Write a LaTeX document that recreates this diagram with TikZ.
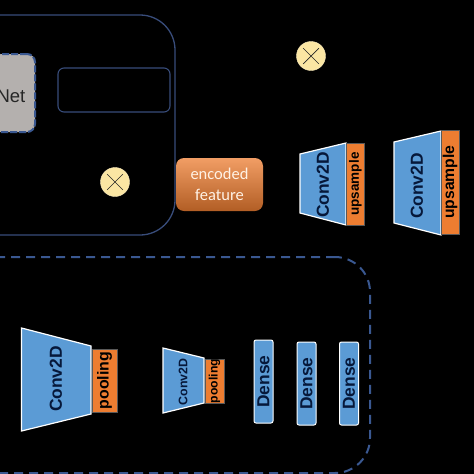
\documentclass[tikz,border=0pt]{standalone}
\usepackage{fontspec}
\setmainfont{Liberation Sans}
\newfontfamily\calibfont{Carlito}
\definecolor{frameBlue}{RGB}{56, 76, 122}
\definecolor{dashBlue}{RGB}{58, 88, 145}
\definecolor{netGray}{RGB}{180, 176, 174}
\definecolor{convBlue}{RGB}{91, 155, 213}
\definecolor{convText}{RGB}{6, 24, 58}
\definecolor{blockOrange}{RGB}{237, 125, 49}
\definecolor{mulYellow}{RGB}{251, 230, 163}
\usetikzlibrary{positioning, shapes.misc}

\begin{document}
\begin{tikzpicture}[x=1pt, y=-1pt,
  solidbox/.style={rectangle, rounded corners=35pt, draw=frameBlue, line width=1.3pt},
  dashbox/.style={rectangle, rounded corners=35pt, draw=dashBlue, line width=2pt,
              dash pattern=on 9pt off 6pt},
  netbox/.style={rectangle, rounded corners=8pt, draw=dashBlue, fill=netGray,
              line width=2pt, dash pattern=on 7pt off 2pt},
  inbox/.style={rectangle, rounded corners=6pt, draw=frameBlue, line width=1.1pt},
  mul/.style={circle, fill=mulYellow, draw=mulYellow!70!white, minimum size=29pt, inner sep=0pt},
  xmark/.style={cross out, draw=black!85, line width=0.7pt, minimum size=15pt, inner sep=0pt},
  encoded/.style={rectangle, rounded corners=8pt, top color=blockOrange!75!white,
              bottom color=blockOrange!75!black, minimum width=87pt, minimum height=53pt,
              align=center, text=white!90!orange, font=\calibfont\fontsize{16.5}{21}\selectfont},
  conv/.style={fill=convBlue, draw=white, line width=1.2pt, line join=miter},
  convlabel/.style={rotate=90, text=convText, font=\bfseries\fontsize{17.4}{20}\selectfont},
  block/.style={rectangle, fill=blockOrange, draw=gray!70!black, line width=0.6pt,
              inner sep=0pt, text=black},
  dense/.style={rectangle, rounded corners=2pt, fill=convBlue, draw=white, line width=1pt,
              minimum width=19pt, minimum height=83pt, inner sep=0pt},
]
  \clip (0,0) rectangle (474,474);
  \fill[black] (0,0) rectangle (474,474);

  % Upper group
  \node[solidbox, minimum width=255pt, minimum height=220pt] (enc) at (47.5,125) {};
  \node[netbox, minimum width=80pt, minimum height=78pt] (netb) at (-5,93) {};
  \node[anchor=east, text=black!85, font=\fontsize{18.5}{20}\selectfont, inner sep=0pt] (nettxt) at (25.5,96) {Net};
  \node[inbox, minimum width=112pt, minimum height=44pt] (slot) at (114,90) {};
  \node[mul] (mul1) at (115,182) {};
  \node[xmark] (x1) at (mul1) {};
  \node[encoded] (feat) at (219.5,184.5) {encoded\\feature};
  \node[mul] (mul2) at (311,56) {};
  \node[xmark] (x2) at (mul2) {};

  % Decoder, small
  \draw[conv] (300,154) -- (346,143) -- (346,225) -- (300,213) -- cycle;
  \node[convlabel] (c1) at (323,185) {Conv2D};
  \node[block, minimum width=18pt, minimum height=82pt] (u1) at (355.5,184) {};
  \node[rotate=90, font=\bfseries\fontsize{13.5}{16}\selectfont] (u1t) at (u1) {upsample};

  % Decoder, large
  \draw[conv] (394,142) -- (441,131) -- (441,235) -- (394,223) -- cycle;
  \node[convlabel] (c2) at (417,186) {Conv2D};
  \node[block, minimum width=18pt, minimum height=104pt] (u2) at (450,182) {};
  \node[rotate=90, font=\bfseries\fontsize{15.7}{18}\selectfont] (u2t) at (u2) {upsample};

  % Lower group
  \node[dashbox, minimum width=500pt, minimum height=216pt] (lower) at (120,365) {};

  % Encoder, large
  \draw[conv] (21.5,328) -- (91,346) -- (91,414) -- (21.5,431) -- cycle;
  \node[convlabel] (c3) at (56,379) {Conv2D};
  \node[block, minimum width=25pt, minimum height=63pt] (p1) at (104.5,380.5) {};
  \node[rotate=90, font=\bfseries\fontsize{15.9}{18}\selectfont] (p1t) at (p1) {pooling};

  % Encoder, small
  \draw[conv] (163,348) -- (204,358) -- (204,403) -- (163,413) -- cycle;
  \node[convlabel, font=\bfseries\fontsize{12.4}{15}\selectfont] (c4) at (183,382) {Conv2D};
  \node[block, minimum width=19pt, minimum height=44pt] (p2) at (214.5,381) {};
  \node[rotate=90, font=\bfseries\fontsize{12.2}{14}\selectfont] (p2t) at (p2) {pooling};

  % Dense layers
  \node[dense] (d1) at (263.5,381.5) {};
  \node[dense, right=23pt of d1, yshift=-2pt] (d2) {};
  \node[dense, right=22.5pt of d2] (d3) {};
  \foreach \n in {d1,d2,d3}
    \node[convlabel] (\n t) at (\n) {Dense};
\end{tikzpicture}
\end{document}
